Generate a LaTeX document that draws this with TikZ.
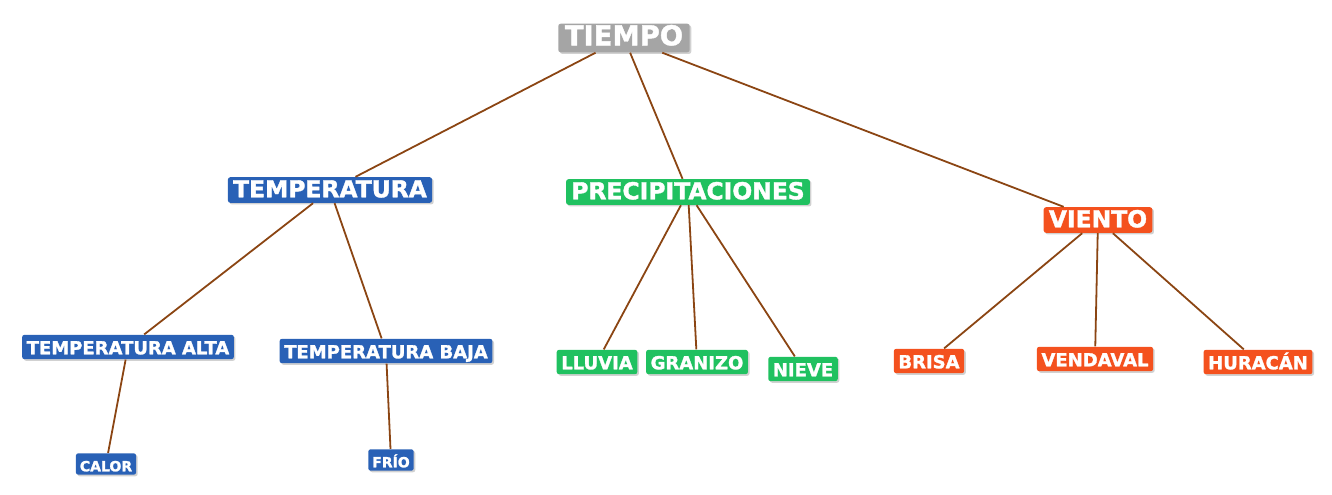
\documentclass[tikz,border=0pt]{standalone}
\usepackage{fontspec}
\setsansfont{DejaVu Sans}[BoldFeatures={FakeBold=1.6}]
\usepackage{xcolor}
\definecolor{gris}{HTML}{A5A5A5}
\definecolor{azul}{HTML}{2961B6}
\definecolor{verde}{HTML}{20C160}
\definecolor{rojo}{HTML}{F4511E}
\definecolor{cafe}{HTML}{8B4513}
\usepackage{tikz}
\usetikzlibrary{shadows}
\tikzset{
  caja/.style={rounded corners=1.2pt, text=white, font=\sffamily\bfseries,
    text height=0.73em, text depth=0pt,
    drop shadow={shadow xshift=0.8pt, shadow yshift=-0.8pt, opacity=0.3, fill=black!60}},
  nivelcero/.style={caja, fill=#1, font=\sffamily\bfseries\fontsize{13.7}{14}\selectfont, inner xsep=3.3pt, inner ysep=3.5pt},
  niveluno/.style={caja, fill=#1, font=\sffamily\bfseries\fontsize{11.7}{12}\selectfont, inner xsep=2.6pt, inner ysep=2.75pt},
  niveldos/.style={caja, fill=#1, font=\sffamily\bfseries\fontsize{9}{10}\selectfont, inner xsep=2.3pt, inner ysep=2.45pt},
  niveltres/.style={caja, fill=#1, font=\sffamily\bfseries\fontsize{7}{8}\selectfont, inner xsep=2pt, inner ysep=1.7pt},
  rama/.style={draw=cafe, line width=0.9pt}
}
\begin{document}
\begin{tikzpicture}[x=0.5pt,y=-0.5pt]
\useasboundingbox (0,0) rectangle (1332,494);

% raiz
\node[nivelcero=gris] (tiempo) at (624,38) {TIEMPO};

% primer nivel
\node[niveluno=azul] (temp) at (330,190) {TEMPERATURA};
\node[niveluno=verde] (prec) at (688,192) {PRECIPITACIONES};
\node[niveluno=rojo] (viento) at (1098,220) {VIENTO};

% segundo nivel
\node[niveldos=azul] (alta) at (128,347) {TEMPERATURA ALTA};
\node[niveldos=azul] (baja) at (386,351) {TEMPERATURA BAJA};
\node[niveldos=verde] (lluvia) at (597,362) {LLUVIA};
\node[niveldos=verde] (granizo) at (697,362) {GRANIZO};
\node[niveldos=verde] (nieve) at (803,369) {NIEVE};
\node[niveldos=rojo] (brisa) at (929,361) {BRISA};
\node[niveldos=rojo] (vendaval) at (1095,359) {VENDAVAL};
\node[niveldos=rojo] (huracan) at (1258,362) {HURACÁN};

% tercer nivel
\node[niveltres=azul] (calor) at (106,464) {CALOR};
\node[niveltres=azul] (frio) at (391,460) {FRÍO};

\draw[rama] (tiempo) -- (temp);
\draw[rama] (tiempo) -- (prec);
\draw[rama] (tiempo) -- (viento);
\draw[rama] (temp) -- (alta);
\draw[rama] (temp) -- (baja);
\draw[rama] (alta) -- (calor);
\draw[rama] (baja) -- (frio);
\draw[rama] (prec) -- (lluvia);
\draw[rama] (prec) -- (granizo);
\draw[rama] (prec) -- (nieve);
\draw[rama] (viento) -- (brisa);
\draw[rama] (viento) -- (vendaval);
\draw[rama] (viento) -- (huracan);

\end{tikzpicture}
\end{document}
